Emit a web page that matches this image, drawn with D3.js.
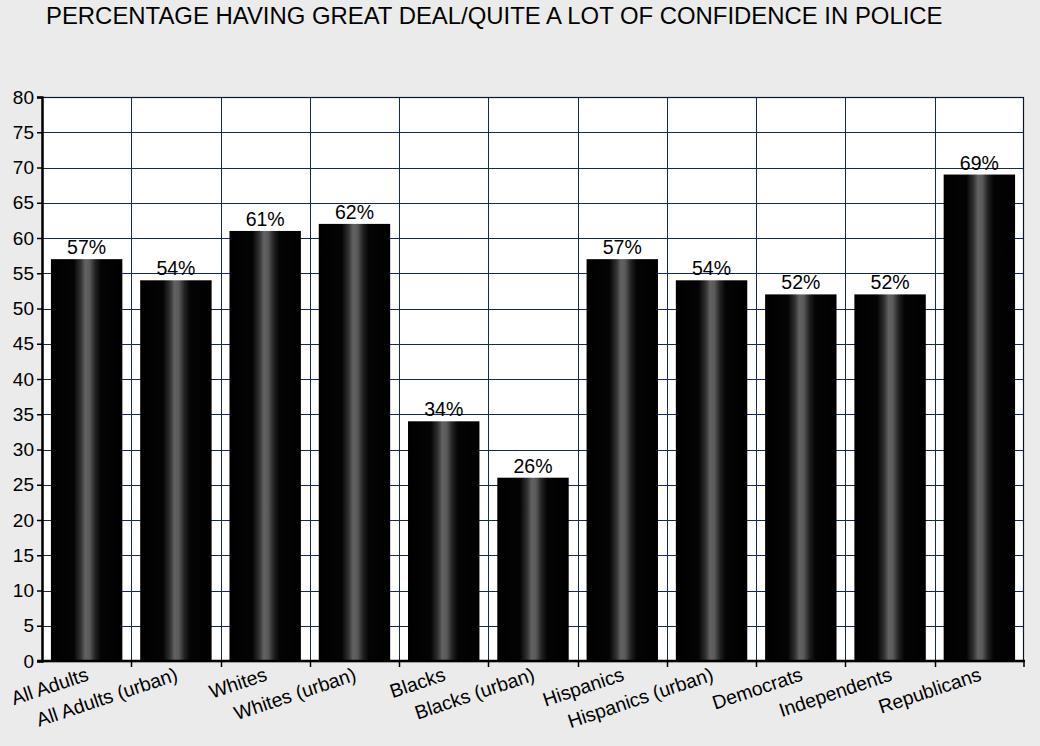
<!DOCTYPE html>
<html><head><meta charset="utf-8">
<script src="https://cdn.jsdelivr.net/npm/d3@7"></script>
<style>
html,body{margin:0;padding:0;background:#ebebeb;}
svg{display:block;font-family:"Liberation Sans",Arial,sans-serif;}
</style></head>
<body>
<svg id="chart" width="1040" height="746"></svg>
<script>
const categories = ["All Adults","All Adults (urban)","Whites","Whites (urban)","Blacks","Blacks (urban)","Hispanics","Hispanics (urban)","Democrats","Independents","Republicans"];
const values = [57,54,61,62,34,26,57,54,52,52,69];
const yTicks = [0,5,10,15,20,25,30,35,40,45,50,55,60,65,70,75,80];
const title = "PERCENTAGE HAVING GREAT DEAL/QUITE A LOT OF CONFIDENCE IN POLICE";

const svg = d3.select("#chart");
const L = 42, R = 1024, T = 97, B = 661;

const x = d3.scaleBand().domain(categories).range([L, R]).paddingInner(0.2).paddingOuter(0.1);
const xb = d3.scaleBand().domain(categories).range([L, R]).padding(0);
const y = d3.scaleLinear().domain([0, 80]).range([B, T]);

const defs = svg.append("defs");
const g = defs.append("linearGradient").attr("id","barGrad").attr("x1","0%").attr("x2","100%").attr("y1","0%").attr("y2","0%");
[[0,"#000"],[0.32,"#040404"],[0.42,"#333"],[0.48,"#626262"],[0.54,"#5a5a5a"],[0.62,"#222"],[0.7,"#040404"],[1,"#000"]]
  .forEach(([o,c]) => g.append("stop").attr("offset", o).attr("stop-color", c));

svg.append("text").attr("x", 46).attr("y", 24).attr("font-size", 23.9).attr("fill", "#000").text(title);

// plot background
svg.append("rect").attr("x", L).attr("y", T).attr("width", R - L).attr("height", B - T).attr("fill", "#fff");

// horizontal gridlines
svg.append("g").selectAll("line").data(yTicks.filter(d => d > 0)).join("line")
  .attr("x1", L).attr("x2", R).attr("y1", d => Math.round(y(d)) + 0.5).attr("y2", d => Math.round(y(d)) + 0.5)
  .attr("stroke", "#14285a").attr("stroke-width", 1);

// vertical gridlines at category boundaries
svg.append("g").selectAll("line").data(categories.slice(1)).join("line")
  .attr("x1", d => Math.round(xb(d)) + 0.5).attr("x2", d => Math.round(xb(d)) + 0.5)
  .attr("y1", T).attr("y2", B)
  .attr("stroke", "#14285a").attr("stroke-width", 1);

// border
svg.append("rect").attr("x", L + 0.5).attr("y", T + 0.5).attr("width", R - L - 1).attr("height", B - T)
  .attr("fill", "none").attr("stroke", "#0a1530").attr("stroke-width", 1.2);

// bars
svg.append("g").selectAll("rect").data(values).join("rect")
  .attr("x", (d, i) => x(categories[i]))
  .attr("width", x.bandwidth())
  .attr("y", d => y(d))
  .attr("height", d => B - y(d))
  .attr("fill", "url(#barGrad)");

// value labels
svg.append("g").selectAll("text").data(values).join("text")
  .attr("x", (d, i) => x(categories[i]) + x.bandwidth() / 2)
  .attr("y", d => y(d) - 5)
  .attr("text-anchor", "middle").attr("font-size", 19.5).attr("fill", "#000")
  .text(d => d + "%");

// y axis
const yAxis = d3.axisLeft(y).tickValues(yTicks).tickSize(5).tickPadding(3);
const ya = svg.append("g").attr("transform", `translate(${L},0)`).call(yAxis);
ya.select(".domain").attr("stroke", "#000").attr("stroke-width", 2.5);
ya.selectAll(".tick line").attr("stroke", "#000").attr("stroke-width", 1.5);
ya.selectAll(".tick text").attr("font-size", 19).attr("fill", "#000").attr("font-family", "Liberation Sans, Arial, sans-serif");

// x axis line & ticks
svg.append("line").attr("x1", L - 5).attr("x2", R + 1).attr("y1", B).attr("y2", B).attr("stroke", "#000").attr("stroke-width", 2.5);
svg.append("g").selectAll("line").data(categories.slice(1).concat(["__end"])).join("line")
  .attr("x1", d => d === "__end" ? R : Math.round(xb(d)) + 0.5)
  .attr("x2", d => d === "__end" ? R : Math.round(xb(d)) + 0.5)
  .attr("y1", B).attr("y2", B + 6).attr("stroke", "#000").attr("stroke-width", 1.5);

// x labels
svg.append("g").selectAll("text").data(categories).join("text")
  .attr("text-anchor", "end").attr("font-size", 19.4).attr("fill", "#000")
  .attr("transform", d => `translate(${xb(d) + xb.bandwidth() / 2 + 3},${B + 19}) rotate(-18.5)`)
  .text(d => d);
</script>
</body></html>
